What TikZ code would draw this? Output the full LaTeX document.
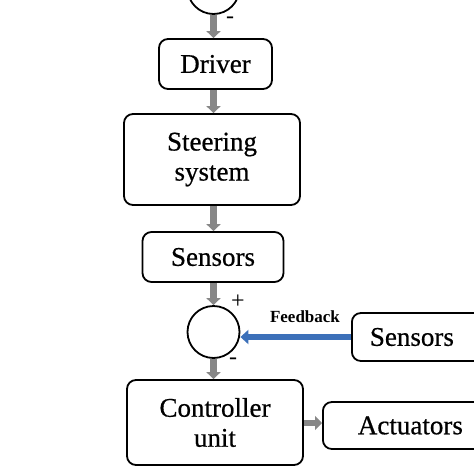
\documentclass[tikz,border=0pt]{standalone}
\usepackage{fontspec}
\setmainfont{Liberation Serif}
\newfontfamily\boxfont{Liberation Serif}[FakeBold=0.6]
\usetikzlibrary{arrows.meta}
\definecolor{fbblue}{RGB}{60,112,185}
\definecolor{garr}{RGB}{135,135,135}
\begin{document}
\begin{tikzpicture}[x=1pt,y=-1pt,
  box/.style={draw=black, line width=1.8pt, rounded corners=9pt, align=center,
    font=\boxfont\fontsize{27}{30}\selectfont, inner sep=0pt},
  sumc/.style={draw=black, line width=1.8pt, circle, minimum size=52pt, inner sep=0pt},
  garrow/.style={draw=garr, line width=6.5pt, -{Triangle[length=7pt,width=14pt]}},
  barrow/.style={draw=fbblue, line width=6.5pt, -{Triangle[length=8pt,width=14pt]}},
  sign/.style={font=\fontsize{24}{24}\selectfont, inner sep=0pt}
]
\useasboundingbox (0,0) rectangle (474,474);
\fill[white] (0,0) rectangle (474,474);

\node[sumc] (sum1) at (213.5,-12) {};
\node[box, minimum width=113pt, minimum height=50pt] (drv) at (215.5,64) {Driver};
\node[box, minimum width=176pt, minimum height=91pt] (steer) at (212,159.5) {Steering\\system};
\node[box, minimum width=141pt, minimum height=50pt] (sens1) at (213,257) {Sensors};
\node[sumc] (sum2) at (213.5,332) {};
\node[box, anchor=west, minimum height=48pt, text width=132pt, align=left, inner xsep=18pt] (sens2) at (351,337) {Sensors};
\node[box, minimum width=176pt, minimum height=85pt] (ctrl) at (215,422.5) {Controller\\unit};
\node[box, anchor=west, minimum height=47pt, text width=120pt, align=left, inner xsep=35pt] (act) at (322,425.5) {Actuators};

\node[sign] (m1) at (230,20) {-};
\node[sign] (p2) at (238,302) {+};
\node[sign] (m2) at (233,361) {-};
\node[font=\bfseries\fontsize{17}{17}\selectfont, inner sep=0pt] (fb) at (305,317) {Feedback};

\draw[garrow] (sum1.south) -- (sum1.south |- drv.north);
\draw[garrow] (sum1.south |- drv.south) -- (sum1.south |- steer.north);
\draw[garrow] (sum1.south |- steer.south) -- (sum1.south |- sens1.north);
\draw[garrow] (sum2.north |- sens1.south) -- (sum2.north);
\draw[garrow] (sum2.south) -- (sum2.south |- ctrl.north);
\draw[garrow, line width=6pt] (ctrl.east |- 0,423) -- (act.west |- 0,423);
\draw[barrow] (sens2.west) -- (sens2.west -| sum2.east);
\end{tikzpicture}
\end{document}
